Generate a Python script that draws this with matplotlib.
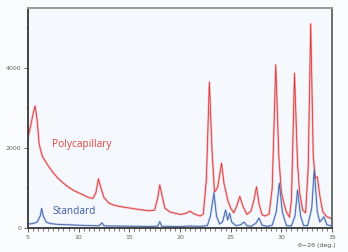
import matplotlib
matplotlib.use("Agg")
import matplotlib.pyplot as plt
from matplotlib.ticker import MultipleLocator

# Data (2theta in deg, intensity in counts)
poly_x = [5.0, 5.3, 5.5, 5.7, 5.9, 6.1, 6.4, 7.0, 7.5, 8.0, 8.5, 9.0, 9.5, 10.0, 10.5, 11.0,
          11.4, 11.7, 11.95, 12.2, 12.5, 13.0, 13.5, 14.0, 15.0, 16.0, 17.0, 17.5, 17.8, 18.0,
          18.2, 18.5, 19.0, 19.5, 20.0, 20.5, 21.0, 21.4, 22.0, 22.3, 22.6, 22.9, 23.15, 23.4,
          23.7, 24.1, 24.35, 24.5, 24.7, 25.0, 25.3, 25.6, 25.9, 26.2, 26.6, 27.0, 27.3, 27.55,
          27.8, 28.1, 28.4, 28.8, 29.1, 29.45, 29.75, 30.0, 30.3, 30.5, 30.8, 31.0, 31.3, 31.6,
          31.8, 32.1, 32.4, 32.65, 32.9, 33.15, 33.35, 33.55, 33.8, 34.1, 34.5, 35.0]
poly_y = [2250, 2600, 2850, 3050, 2700, 2100, 1800, 1550, 1380, 1230, 1120, 1020, 940, 880, 820, 760,
          740, 880, 1230, 1000, 760, 620, 570, 540, 500, 460, 430, 450, 750, 1075,
          850, 500, 400, 370, 340, 360, 420, 350, 300, 350, 1200, 3650, 2000, 900,
          1000, 1620, 1100, 950, 700, 500, 380, 550, 790, 550, 340, 420, 700, 1030,
          600, 330, 300, 350, 1000, 4080, 1800, 900, 575, 400, 270, 700, 3870, 1600,
          900, 450, 380, 1500, 5100, 1800, 1250, 1280, 800, 400, 280, 230]

std_x = [5.0, 5.5, 5.9, 6.2, 6.35, 6.5, 6.8, 7.2, 8.0, 9.0, 10.0, 11.0, 12.0, 12.3, 12.5, 13.0,
         15.0, 17.0, 17.8, 18.0, 18.2, 20.0, 21.0, 22.0, 22.7, 23.0, 23.35, 23.6, 23.9, 24.2,
         24.5, 24.7, 24.9, 25.1, 25.5, 26.0, 26.3, 26.6, 27.0, 27.5, 27.8, 28.1, 28.6, 29.1,
         29.5, 29.8, 30.1, 30.5, 31.0, 31.35, 31.6, 31.9, 32.2, 32.6, 33.0, 33.25, 33.55, 33.8,
         34.2, 34.5, 35.0]
std_y = [100, 110, 150, 300, 490, 300, 150, 110, 90, 80, 70, 60, 55, 130, 55, 50,
         45, 40, 45, 160, 45, 35, 50, 40, 60, 300, 880, 300, 100, 150,
         450, 200, 370, 150, 60, 80, 150, 60, 40, 120, 250, 70, 40, 70,
         400, 1120, 400, 60, 50, 300, 950, 300, 60, 60, 500, 1450, 400, 150,
         280, 80, 50]

x_ticks = [5, 10, 15, 20, 25, 30, 35]
y_ticks = [0, 2000, 4000]

fig = plt.figure(figsize=(3.48, 2.52), dpi=100, facecolor="#fafbfd")
ax = fig.add_axes([28/348, 1-228/252, (332-28)/348, (228-8)/252])
ax.set_facecolor("#f5f8fc")

# halos
ax.plot(poly_x, poly_y, color="#f4a9a9", lw=1.6, alpha=0.8, solid_joinstyle="round")
ax.plot(std_x, std_y, color="#a9c3e6", lw=1.5, alpha=0.8, solid_joinstyle="round")
# main lines
ax.plot(poly_x, poly_y, color="#d8343a", lw=0.55)
ax.plot(std_x, std_y, color="#3b58a6", lw=0.55)

ax.set_xlim(5, 35)
ax.set_ylim(0, 5500)
ax.set_xticks(x_ticks)
ax.set_xticklabels([str(v) for v in x_ticks])
ax.set_yticks(y_ticks)
ax.set_yticklabels([str(v) for v in y_ticks])
ax.xaxis.set_minor_locator(MultipleLocator(0.5))
ax.yaxis.set_minor_locator(MultipleLocator(1000))
ax.tick_params(axis="both", which="major", labelsize=4.5, labelcolor="#666666",
               color="#444444", length=3, width=0.6, pad=2)
ax.tick_params(axis="both", which="minor", color="#444444", length=1.8, width=0.5)

for side in ["left", "bottom"]:
    ax.spines[side].set_color("#444444")
    ax.spines[side].set_linewidth(1.4)
ax.spines["top"].set_color("#999999")
ax.spines["top"].set_linewidth(1.4)
ax.spines["right"].set_color("#555555")
ax.spines["right"].set_linewidth(1.2)

ax.text(7.4, 2075, "Polycapillary", color="#e0463f", fontsize=7.3,
        family="Open Sans", va="center", ha="left")
ax.text(7.4, 425, "Standard", color="#3b58a6", fontsize=7.3,
        family="Open Sans", va="center", ha="left")
fig.text(336/348, 1-245/252, "θ−2θ (deg.)", color="#555555", fontsize=4.5,
         ha="right", va="center")

fig.savefig("out.png", dpi=100, facecolor=fig.get_facecolor())
